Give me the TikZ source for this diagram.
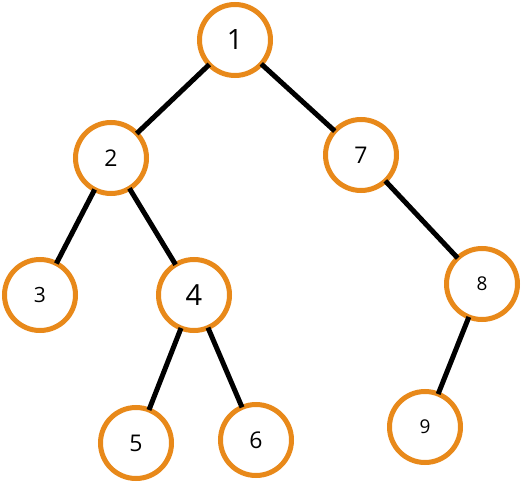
\documentclass[tikz,border=0pt]{standalone}
\usepackage{fontspec}
\setmainfont{Open Sans}
\definecolor{ring}{HTML}{E8891A}
\begin{document}
\begin{tikzpicture}[x=1pt,y=-1pt,
  vert/.style={circle,draw=ring,line width=5pt,fill=white,minimum size=71pt,inner sep=0pt,outer sep=0pt},
  link/.style={line width=5pt,black}]
\useasboundingbox (0,0) rectangle (522,484);
\node[vert,font=\fontsize{28}{32}\selectfont] (n1) at (235,40) {1};
\node[vert,font=\fontsize{23}{27}\selectfont] (n2) at (111,158) {2};
\node[vert,font=\fontsize{23}{27}\selectfont] (n7) at (361,155) {7};
\node[vert,font=\fontsize{21}{25}\selectfont] (n3) at (40,295) {3};
\node[vert,font=\fontsize{29}{33}\selectfont] (n4) at (194,295) {4};
\node[vert,font=\fontsize{19}{23}\selectfont] (n8) at (482,284) {8};
\node[vert,font=\fontsize{23}{27}\selectfont] (n5) at (136,443) {5};
\node[vert,font=\fontsize{23}{27}\selectfont] (n6) at (256,440) {6};
\node[vert,font=\fontsize{19}{23}\selectfont] (n9) at (425,427) {9};
\draw[link] (n1) -- (n2);
\draw[link] (n1) -- (n7);
\draw[link] (n2) -- (n3);
\draw[link] (n2) -- (n4);
\draw[link] (n4) -- (n5);
\draw[link] (n4) -- (n6);
\draw[link] (n7) -- (n8);
\draw[link] (n8) -- (n9);
\end{tikzpicture}
\end{document}
